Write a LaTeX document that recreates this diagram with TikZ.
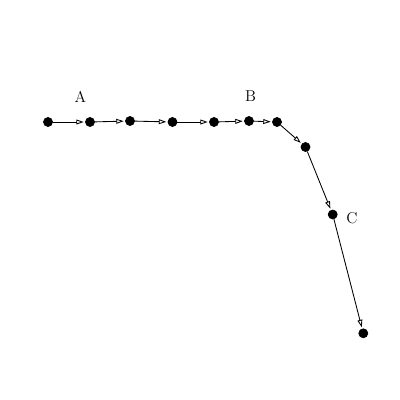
\documentclass[tikz,border=0pt]{standalone}
\usetikzlibrary{arrows.meta}
\begin{document}
\begin{tikzpicture}[x=0.7pt,y=-0.7pt,
  dot/.style={circle,fill=black,draw=black,inner sep=0pt,minimum size=6.4pt},
  lbl/.style={font=\fontsize{11}{13}\selectfont,inner sep=0pt},
  link/.style={draw,line width=0.6pt,-{Triangle[open,length=5.2pt,width=3.4pt]},shorten >=1pt}]
\useasboundingbox (0,0) rectangle (400,400);
\node[dot] (n1) at (48,122) {};
\node[dot] (n2) at (90,122) {};
\node[dot] (n3) at (130,121) {};
\node[dot] (n4) at (172.5,122) {};
\node[dot] (n5) at (214,122) {};
\node[dot] (n6) at (249,121) {};
\node[dot] (n7) at (277,122) {};
\node[dot] (n8) at (305.5,147) {};
\node[dot] (n9) at (332.7,214.5) {};
\node[dot] (n10) at (363.3,333.3) {};
\node[lbl] (la) at (80.5,97) {A};
\node[lbl] (lb) at (250.5,96) {B};
\node[lbl] (lc) at (352,218.5) {C};
\draw[link] (n1) -- (n2);
\draw[link] (n2) -- (n3);
\draw[link] (n3) -- (n4);
\draw[link] (n4) -- (n5);
\draw[link] (n5) -- (n6);
\draw[link] (n6) -- (n7);
\draw[link] (n7) -- (n8);
\draw[link] (n8) -- (n9);
\draw[link] (n9) -- (n10);
\end{tikzpicture}
\end{document}
